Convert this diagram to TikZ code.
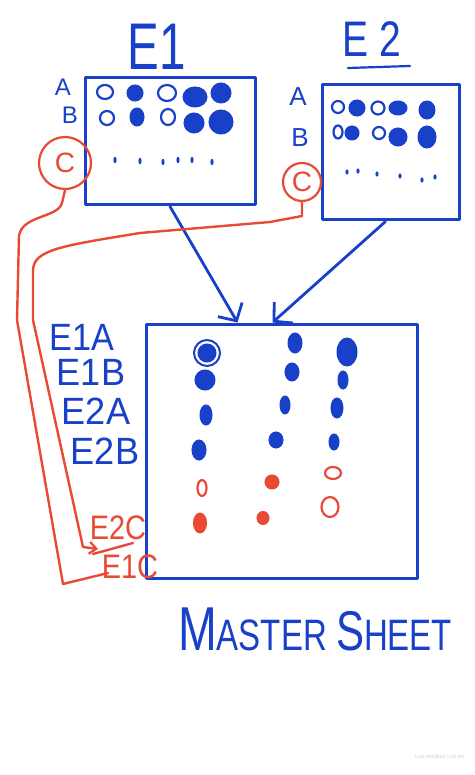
\documentclass[tikz,border=0pt]{standalone}
\usepackage{fontspec}
\setmainfont{Liberation Sans}
\usetikzlibrary{arrows.meta}
\definecolor{pen}{RGB}{24,64,200}
\definecolor{redpen}{RGB}{232,74,54}
\definecolor{faint}{RGB}{205,205,205}
\begin{document}
\begin{tikzpicture}[x=1pt,y=-1pt,
  bluebox/.style={draw=pen,line width=3pt,line join=round,inner sep=0pt},
  blueline/.style={draw=pen,line width=2.8pt,line cap=round,line join=round},
  redline/.style={draw=redpen,line width=2.4pt,line cap=round,line join=round},
  bluetxt/.style={text=pen,inner sep=0pt},
  redtxt/.style={text=redpen,inner sep=0pt},
  fdot/.style={fill=pen,draw=pen,line width=1pt},
  odot/.style={draw=pen,line width=2.2pt},
  rfdot/.style={fill=redpen,draw=redpen,line width=1pt},
  rodot/.style={draw=redpen,line width=2.2pt},
  tick/.style={fill=pen},
  ccircle/.style={circle,draw=redpen,line width=2.2pt,text=redpen,inner sep=0pt},
  tip/.style={-{Straight Barb[length=13pt,width=28pt,line width=2.8pt]}}
]
\useasboundingbox (0,0) rectangle (474,775);
\fill[white] (0,0) rectangle (474,775);

% titles
\node[bluetxt,font=\fontsize{66}{66}\selectfont] (t1) at (157,47) {\scalebox{0.72}[1]{E1}};
\node[bluetxt,font=\fontsize{50}{50}\selectfont] (t2) at (372,39) {\scalebox{0.78}[1]{E 2}};
\draw[blueline,line width=2.2pt] (348,68) -- (410,66);

% boxes
\node[bluebox,minimum width=170pt,minimum height=127pt] (e1) at (170,141.5) {};
\node[bluebox,minimum width=137pt,minimum height=135pt] (e2) at (390.5,152.5) {};
\node[bluebox,minimum width=271pt,minimum height=254pt] (ms) at (281.5,451) {};

% row labels
\node[bluetxt,font=\fontsize{24}{24}\selectfont] (e1a) at (63,87) {A};
\node[bluetxt,font=\fontsize{24}{24}\selectfont] (e1b) at (70,115) {B};
\node[bluetxt,font=\fontsize{26}{26}\selectfont] (e2a) at (298,97) {A};
\node[bluetxt,font=\fontsize{26}{26}\selectfont] (e2b) at (300,138) {B};

% E1 dots
\draw[odot] (105,92) ellipse (8pt and 7pt);
\draw[fdot] (135,93) circle (8pt);
\draw[odot] (167,93) ellipse (9pt and 8pt);
\draw[fdot] (195,97) ellipse (12pt and 10pt);
\draw[fdot] (221,93) circle (10pt);
\draw[odot] (107,118) circle (7pt);
\draw[fdot] (137,117) ellipse (7pt and 9pt);
\draw[odot] (168,117) ellipse (7pt and 8pt);
\draw[fdot] (194,123) circle (10pt);
\draw[fdot] (221,122) circle (12pt);
\foreach \x/\y in {115/160,140/161,163/162,178/160,192/160,212/162}
  \fill[tick] (\x,\y) ellipse (1.6pt and 3.2pt);

% E2 dots
\draw[odot] (338,107) circle (6pt);
\draw[fdot] (357,108) circle (8pt);
\draw[odot] (378,108) circle (6.5pt);
\draw[fdot] (398,108) ellipse (9pt and 7pt);
\draw[fdot] (427,110) ellipse (8pt and 9pt);
\draw[odot] (338,132) ellipse (4.5pt and 6.5pt);
\draw[fdot] (352,133) circle (7pt);
\draw[odot] (379,133) circle (6pt);
\draw[fdot] (398,137) circle (9pt);
\draw[fdot] (427,137) ellipse (9pt and 11pt);
\foreach \x/\y in {347/172,358/171,377/174,400/176,422/180,435/177}
  \fill[tick] (\x,\y) ellipse (1.6pt and 2.6pt);

% C circles
\node[ccircle,minimum size=52pt,font=\fontsize{28}{28}\selectfont] (c1) at (65,163) {C};
\node[ccircle,minimum size=38pt,font=\fontsize{28}{28}\selectfont] (c2) at (302,182) {C};

% arrows into master sheet
\draw[blueline,tip] (e1.south) -- ([xshift=-44pt]ms.north);
\draw[blueline,tip] ([xshift=-5pt]e2.south) -- ([xshift=-9pt]ms.north);

% master labels
\node[bluetxt,font=\fontsize{38}{38}\selectfont] (m1) at (82,337) {\scalebox{0.9}[1]{E1A}};
\node[bluetxt,font=\fontsize{38}{38}\selectfont] (m2) at (91,372) {\scalebox{0.95}[1]{E1B}};
\node[bluetxt,font=\fontsize{38}{38}\selectfont] (m3) at (96,411) {\scalebox{0.95}[1]{E2A}};
\node[bluetxt,font=\fontsize{38}{38}\selectfont] (m4) at (105,451) {\scalebox{0.95}[1]{E2B}};
\node[redtxt,font=\fontsize{34}{34}\selectfont] (e2c) at (118,528) {\scalebox{0.85}[1]{E2C}};
\node[redtxt,font=\fontsize{34}{34}\selectfont] (e1c) at (130,567) {\scalebox{0.85}[1]{E1C}};

% master dots, column 1
\draw[fdot] (207,353) circle (9pt);
\draw[pen,line width=2pt] (207,353) circle (13pt);
\draw[fdot] (205,380) circle (10pt);
\draw[fdot] (206,415) ellipse (6pt and 10pt);
\draw[fdot] (199,450) ellipse (7pt and 10pt);
\draw[rodot] (202,488) ellipse (4.5pt and 8pt);
\draw[rfdot] (200,523) ellipse (6.5pt and 10pt);
% column 2
\draw[fdot] (295,343) ellipse (7pt and 10pt);
\draw[fdot] (292,372) ellipse (7pt and 9pt);
\draw[fdot] (285,405) ellipse (5pt and 9pt);
\draw[fdot] (276,440) ellipse (7pt and 8pt);
\draw[rfdot] (272,482) circle (7pt);
\draw[rfdot] (263,518) ellipse (6pt and 6.5pt);
% column 3
\draw[fdot] (347,352) ellipse (10pt and 14pt);
\draw[fdot] (343,380) ellipse (5pt and 9pt);
\draw[fdot] (337,408) ellipse (6pt and 10pt);
\draw[fdot] (334,442) ellipse (5pt and 8pt);
\draw[rodot] (333,473) ellipse (8pt and 6pt);
\draw[rodot] (330,507) ellipse (8.5pt and 10pt);

% red connectors
\coordinate (e1cend) at (108,573);
\coordinate (e2cend) at (98,549);
\draw[redline] (c1.south) -- (62,203) .. controls (58,218) and (22,215) .. (19,236)
  -- (17,320) -- (63,584) -- (e1cend);
\draw[redline] (c2.south) -- (302,216) -- (270,222) -- (140,233)
  .. controls (60,246) and (34,250) .. (33,270) -- (33,320) -- (83,547);
\draw[redline,-{Straight Barb[length=7pt,width=12pt,line width=2.2pt]}] (83,547) -- (e2cend);
\draw[redline] (93,554) -- (133,543);

% caption
\node[bluetxt,anchor=base west] (cap) at (178,650)
  {\scalebox{0.75}[1]{\fontsize{62}{62}\selectfont M\fontsize{44}{44}\selectfont ASTER\ \fontsize{56}{56}\selectfont S\fontsize{44}{44}\selectfont HEET}};

% faint timestamp
\node[text=faint,inner sep=0pt,font=\fontsize{5}{5}\selectfont] (lm) at (440,757) {Last modified 1:06 pm};
\end{tikzpicture}
\end{document}
